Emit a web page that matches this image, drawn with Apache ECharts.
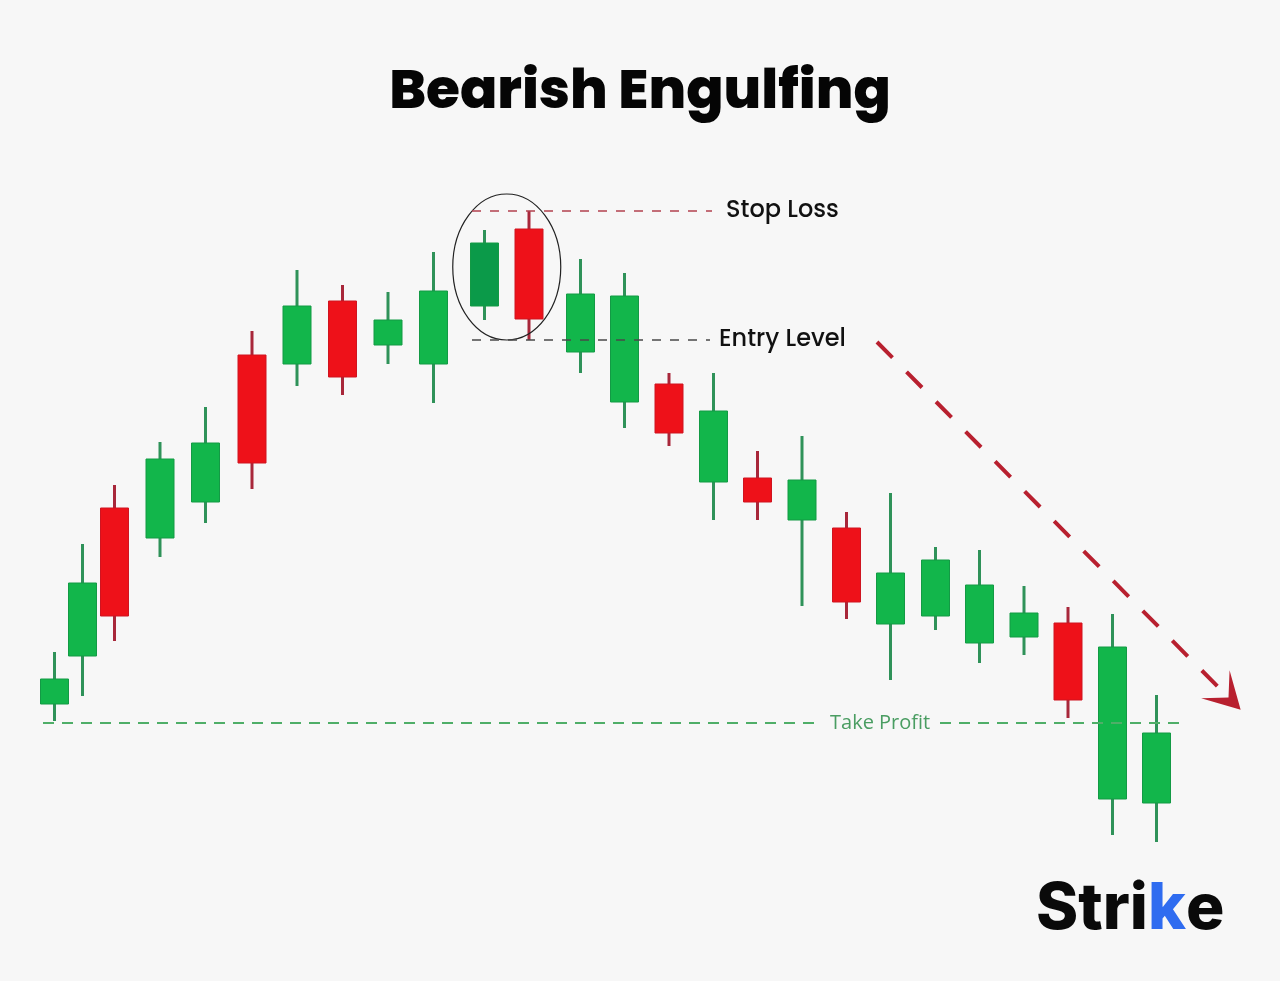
<!DOCTYPE html>
<html>
<head>
<meta charset="utf-8">
<style>
  html, body { margin: 0; padding: 0; background: #f7f7f7; }
  #chart { width: 1280px; height: 981px; }
</style>
<script src="https://cdn.jsdelivr.net/npm/echarts@6/dist/echarts.min.js"></script>
</head>
<body>
<div id="chart"></div>
<script>
// ---- data (session position, open, close, low, high) ----
const sessions = [1.09, 1.65, 2.29, 3.20, 4.11, 5.04, 5.94, 6.85, 7.76, 8.67, 9.69, 10.58, 11.61,
                  12.49, 13.38, 14.27, 15.15, 16.04, 16.93, 17.81, 18.71, 19.59, 20.48, 21.36, 22.25, 23.13];
const opens  = [27.7, 32.5, 47.3, 44.3, 47.9, 62.6, 61.7, 68.0, 63.6, 61.7, 67.5, 75.2, 62.9,
                57.9, 59.7, 49.9, 50.3, 46.1, 45.3, 35.7, 36.5, 33.8, 34.4, 35.8, 18.2, 17.8];
const closes = [30.2, 39.8, 36.5, 52.2, 53.8, 51.8, 67.5, 60.4, 66.1, 69.0, 73.8, 66.2, 68.7,
                68.5, 54.8, 57.0, 47.9, 50.1, 37.9, 40.8, 42.1, 39.6, 36.8, 28.1, 33.4, 24.8];
const lows   = [26.0, 28.5, 34.0, 42.4, 45.8, 49.2, 59.5, 58.6, 61.7, 57.8, 66.1, 64.1, 60.8,
                55.3, 53.5, 46.1, 46.1, 37.5, 36.2, 30.1, 35.1, 31.8, 32.6, 26.3, 14.6, 13.9];
const highs  = [32.9, 43.7, 49.6, 53.9, 57.4, 65.0, 71.1, 69.6, 68.9, 72.9, 75.1, 77.0, 72.2,
                70.8, 60.8, 60.8, 53.0, 54.5, 46.9, 48.8, 43.4, 43.1, 39.5, 37.4, 36.7, 28.6];

const patternIndex = 11;               // the bearish engulfing candle
const stopLoss    = highs[patternIndex];   // 77.0
const entryLevel  = lows[patternIndex];    // 64.1
const takeProfit  = 25.8;

const titleText = 'Bearish Engulfing';
const labels = { stop: 'Stop Loss', entry: 'Entry Level', profit: 'Take Profit' };

// ---- build ----
const candleData = sessions.map((s, i) => [s, opens[i], closes[i], lows[i], highs[i]]);

const GREEN = '#12b64b', GREEN_DARK = '#0b9a49', RED = '#ee1119';
const WICK_GREEN = '#2f9259', WICK_RED = '#a8273a';
const BG = '#f7f7f7';

const chart = echarts.init(document.getElementById('chart'));

const option = {
  backgroundColor: BG,
  animation: false,
  title: {
    text: titleText,
    left: 'center',
    top: 62,
    textStyle: { fontFamily: 'Poppins, Inter, sans-serif', fontWeight: 800, fontSize: 55, color: '#050505' }
  },
  grid: { left: 0, right: 0, top: 0, bottom: 0 },
  xAxis: { type: 'value', min: 0, max: 25.6, show: false },
  yAxis: { type: 'value', min: 0, max: 98.1, show: false },
  graphic: [{
    type: 'text',
    left: 1036,
    top: 878,
    style: {
      text: '{a|Stri}{b|k}{a|e}',
      rich: {
        a: { fontFamily: 'Inter, sans-serif', fontWeight: 800, fontSize: 64, fill: '#0a0a0a' },
        b: { fontFamily: 'Inter, sans-serif', fontWeight: 800, fontSize: 64, fill: '#2f6cf0' }
      }
    }
  }],
  series: [
    {
      type: 'custom',
      name: 'candles',
      data: candleData,
      encode: { x: 0, y: [1, 2, 3, 4] },
      renderItem: function (params, api) {
        const x = api.value(0), o = api.value(1), c = api.value(2), l = api.value(3), h = api.value(4);
        const pO = api.coord([x, o]), pC = api.coord([x, c]);
        const pL = api.coord([x, l]), pH = api.coord([x, h]);
        const up = c >= o;
        const bw = api.size([0.56, 0])[0];
        let body = up ? GREEN : RED;
        if (params.dataIndex === patternIndex - 1) body = GREEN_DARK;
        const wick = up ? WICK_GREEN : WICK_RED;
        const top = Math.min(pO[1], pC[1]);
        const hgt = Math.abs(pO[1] - pC[1]);
        return {
          type: 'group',
          children: [
            { type: 'rect', shape: { x: pH[0] - 1.5, y: pH[1], width: 3, height: pL[1] - pH[1] }, style: { fill: wick } },
            { type: 'rect', shape: { x: pO[0] - bw / 2, y: top, width: bw, height: hgt },
              style: { fill: body, stroke: up ? '#139a45' : '#cf1420', lineWidth: 1 } }
          ]
        };
      },
      z: 3
    },
    {
      type: 'custom',
      name: 'highlight',
      data: [[(sessions[patternIndex - 1] + sessions[patternIndex]) / 2, 71.4]],
      encode: { x: 0, y: 1 },
      renderItem: function (params, api) {
        const p = api.coord([api.value(0), api.value(1)]);
        const rx = api.size([1.08, 0])[0];
        const ry = api.size([0, 7.3])[1];
        return { type: 'ellipse', shape: { cx: p[0], cy: p[1], rx: rx, ry: ry },
                 style: { fill: 'none', stroke: '#222', lineWidth: 1.2 } };
      },
      z: 4
    },
    {
      type: 'line',
      name: 'levels',
      data: [],
      markLine: {
        silent: true,
        symbol: ['none', 'none'],
        animation: false,
        data: [
          [
            { coord: [9.44, stopLoss], lineStyle: { color: '#b3414f', type: [9, 9], width: 1.5 },
              label: { show: true, position: 'end', formatter: labels.stop, distance: 14,
                       fontFamily: 'Poppins, Inter, sans-serif', fontSize: 24, fontWeight: 500, color: '#111' } },
            { coord: [14.24, stopLoss] }
          ],
          [
            { coord: [9.44, entryLevel], lineStyle: { color: '#4a4a4a', type: [9, 9], width: 1.5 },
              label: { show: true, position: 'end', formatter: labels.entry, distance: 9,
                       fontFamily: 'Poppins, Inter, sans-serif', fontSize: 24, fontWeight: 500, color: '#111' } },
            { coord: [14.2, entryLevel] }
          ],
          [
            { coord: [0.86, takeProfit], lineStyle: { color: '#4fae68', type: [11, 8], width: 2 },
              label: { show: true, position: 'end', formatter: labels.profit, distance: 8,
                       fontFamily: '"Open Sans", "Noto Sans", sans-serif', fontSize: 20, fontWeight: 400,
                       color: '#4a9d62', letterSpacing: 0.6 } },
            { coord: [16.44, takeProfit] }
          ],
          [
            { coord: [18.8, takeProfit], lineStyle: { color: '#4fae68', type: [11, 8], width: 2 },
              label: { show: false } },
            { coord: [23.74, takeProfit] }
          ]
        ]
      },
      z: 2
    },
    {
      type: 'line',
      name: 'trend',
      data: [],
      markLine: {
        silent: true,
        animation: false,
        symbol: ['none', 'path://M50,0 L100,100 L50,48 L0,100 Z'],
        symbolSize: [40, 36],
        label: { show: false },
        lineStyle: { color: '#b8202f', type: [22, 20], width: 4, cap: 'butt' },
        data: [
          [ { coord: [17.54, 63.9], itemStyle: { color: '#e0131f' } }, { coord: [24.56, 28.4], itemStyle: { color: '#e0131f' } } ]
        ]
      },
      z: 2
    }
  ]
};

chart.setOption(option);
</script>
</body>
</html>
